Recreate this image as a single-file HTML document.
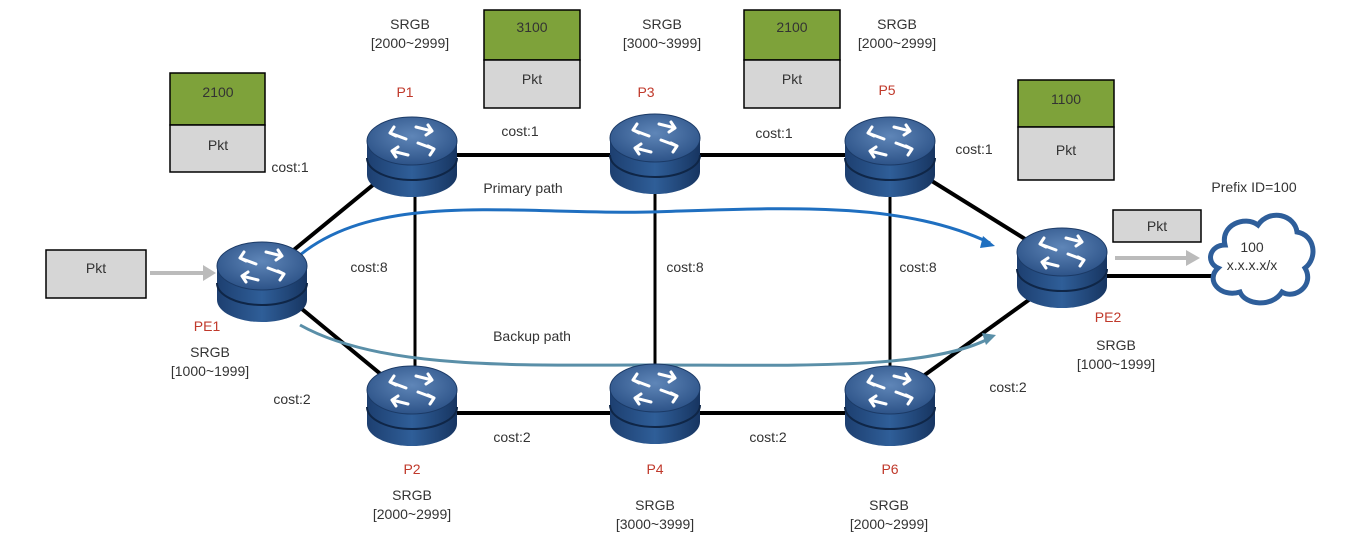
<!DOCTYPE html>
<html><head><meta charset="utf-8"><style>
body{margin:0;background:#fff}
svg text{font-family:"Liberation Sans",sans-serif;font-size:14px;fill:#333}
</style></head><body>
<svg width="1346" height="555" viewBox="0 0 1346 555" xmlns="http://www.w3.org/2000/svg">
<defs>
<linearGradient id="bd" x1="0" x2="1"><stop offset="0" stop-color="#1d3f70"/><stop offset="0.5" stop-color="#2f5e98"/><stop offset="1" stop-color="#173561"/></linearGradient>
<radialGradient id="tp" cx="0.5" cy="0.4" r="0.6"><stop offset="0" stop-color="#5f86b8"/><stop offset="1" stop-color="#2d5388"/></radialGradient>
<g id="r">
<path d="M-45,-12 L-45,22 A45,22 0 0 0 45,22 L45,-12 Z" fill="url(#bd)"/>
<path d="M-45,5 A45,22 0 0 0 45,5" fill="none" stroke="#0f2647" stroke-width="2"/>
<ellipse cx="0" cy="-12" rx="45" ry="24" fill="url(#tp)" stroke="#1b3a66" stroke-width="1"/>
<g stroke="#fff" stroke-width="3" fill="none" stroke-linecap="round">
<path d="M-22,-20 L-6,-14 M-22,-20 L-18,-26 M-22,-20 L-16,-17"/>
<path d="M22,-4 L6,-10 M22,-4 L18,2 M22,-4 L16,-7"/>
<path d="M4,-26 L20,-22 M20,-22 L16,-28 M20,-22 L14,-18"/>
<path d="M-4,2 L-20,-2 M-20,-2 L-16,4 M-20,-2 L-14,-6"/>
</g>
</g>
</defs>
<g stroke="#000" stroke-width="4">
<line x1="262" y1="276" x2="412" y2="153"/><line x1="262" y1="276" x2="412" y2="400"/>
<line x1="412" y1="155" x2="655" y2="155"/><line x1="655" y1="155" x2="890" y2="155"/>
<line x1="890" y1="155" x2="1062" y2="262"/><line x1="412" y1="413" x2="655" y2="413"/>
<line x1="655" y1="413" x2="890" y2="413"/><line x1="890" y1="400" x2="1062" y2="276"/>
<line x1="415" y1="160" x2="415" y2="400" stroke-width="3"/><line x1="655" y1="160" x2="655" y2="400" stroke-width="3"/><line x1="890" y1="160" x2="890" y2="400" stroke-width="3"/>
<line x1="1062" y1="276" x2="1215" y2="276"/>
</g>
<path d="M300,255 C380,190 520,215 650,212 C780,208 900,200 990,243" fill="none" stroke="#1f6fc0" stroke-width="3"/>
<path d="M983,236 L995,246 L980,248 Z" fill="#1f6fc0"/>
<path d="M300,325 C380,370 520,365 650,365 C800,365 930,370 990,338" fill="none" stroke="#5a8fa8" stroke-width="3"/>
<path d="M982,333 L996,335 L986,345 Z" fill="#5a8fa8"/>
<line x1="150" y1="273" x2="205" y2="273" stroke="#bbb" stroke-width="4"/><path d="M203,265 L216,273 L203,281Z" fill="#bbb"/>
<line x1="1115" y1="258" x2="1188" y2="258" stroke="#bbb" stroke-width="4"/><path d="M1186,250 L1200,258 L1186,266Z" fill="#bbb"/>
<use href="#r" x="262" y="278"/><use href="#r" x="412" y="153"/><use href="#r" x="655" y="150"/><use href="#r" x="890" y="153"/>
<use href="#r" x="1062" y="264"/><use href="#r" x="412" y="402"/><use href="#r" x="655" y="400"/><use href="#r" x="890" y="402"/>
<path d="M1225,245 C1220,225 1245,215 1258,225 C1270,208 1295,215 1297,232 C1315,235 1318,258 1305,268 C1315,285 1295,300 1282,292 C1272,308 1245,305 1240,292 C1220,298 1205,280 1218,268 C1205,262 1210,245 1225,245Z" fill="#fff" stroke="#2e5e9a" stroke-width="5"/>
<g stroke="#000" stroke-width="1.5">
<rect x="170" y="73" width="95" height="52" fill="#7ea23a"/><rect x="170" y="125" width="95" height="47" fill="#d6d6d6"/>
<rect x="484" y="10" width="96" height="50" fill="#7ea23a"/><rect x="484" y="60" width="96" height="48" fill="#d6d6d6"/>
<rect x="744" y="10" width="96" height="50" fill="#7ea23a"/><rect x="744" y="60" width="96" height="48" fill="#d6d6d6"/>
<rect x="1018" y="80" width="96" height="47" fill="#7ea23a"/><rect x="1018" y="127" width="96" height="53" fill="#d6d6d6"/>
<rect x="46" y="250" width="100" height="48" fill="#d6d6d6"/><rect x="1113" y="210" width="88" height="32" fill="#d6d6d6"/>
</g>
<g text-anchor="middle">
<text x="218" y="97">2100</text><text x="218" y="150">Pkt</text>
<text x="532" y="32">3100</text><text x="532" y="84">Pkt</text>
<text x="792" y="32">2100</text><text x="792" y="84">Pkt</text>
<text x="1066" y="104">1100</text><text x="1066" y="155">Pkt</text>
<text x="96" y="273">Pkt</text><text x="1157" y="231">Pkt</text>
<text x="1252" y="252">100</text><text x="1252" y="270" font-size="13">x.x.x.x/x</text>
<text x="1254" y="192">Prefix ID=100</text>
<text x="405" y="97" style="fill:#c0392b">P1</text><text x="646" y="97" style="fill:#c0392b">P3</text><text x="887" y="95" style="fill:#c0392b">P5</text>
<text x="207" y="331" style="fill:#c0392b">PE1</text><text x="1108" y="322" style="fill:#c0392b">PE2</text>
<text x="412" y="474" style="fill:#c0392b">P2</text><text x="655" y="474" style="fill:#c0392b">P4</text><text x="890" y="474" style="fill:#c0392b">P6</text>
<text x="410" y="29">SRGB</text><text x="410" y="48">[2000~2999]</text>
<text x="662" y="29">SRGB</text><text x="662" y="48">[3000~3999]</text>
<text x="897" y="29">SRGB</text><text x="897" y="48">[2000~2999]</text>
<text x="210" y="357">SRGB</text><text x="210" y="376">[1000~1999]</text>
<text x="1116" y="350">SRGB</text><text x="1116" y="369">[1000~1999]</text>
<text x="412" y="500">SRGB</text><text x="412" y="519">[2000~2999]</text>
<text x="655" y="510">SRGB</text><text x="655" y="529">[3000~3999]</text>
<text x="889" y="510">SRGB</text><text x="889" y="529">[2000~2999]</text>
<text x="290" y="172">cost:1</text><text x="520" y="136">cost:1</text><text x="774" y="138">cost:1</text><text x="974" y="154">cost:1</text>
<text x="369" y="272">cost:8</text><text x="685" y="272">cost:8</text><text x="918" y="272">cost:8</text>
<text x="292" y="404">cost:2</text><text x="512" y="442">cost:2</text><text x="768" y="442">cost:2</text><text x="1008" y="392">cost:2</text>
<text x="523" y="193">Primary path</text><text x="532" y="341">Backup path</text>
</g>
</svg>
</body></html>
